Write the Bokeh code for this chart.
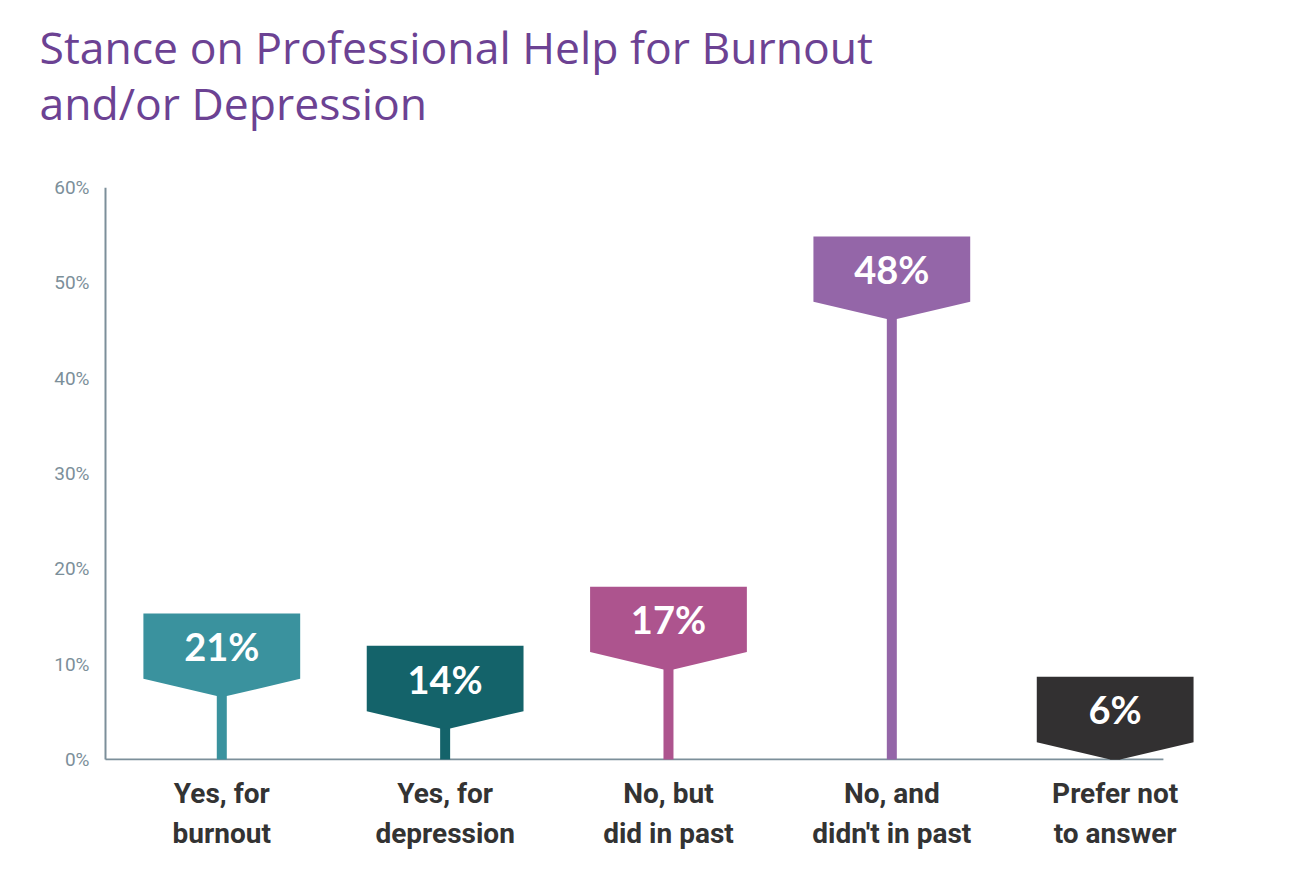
from bokeh.plotting import figure
from bokeh.models import Range1d, FixedTicker, Title
from bokeh.embed import file_html
from bokeh.resources import INLINE
from bokeh.core.properties import value

# ---- data ----
categories = ["Yes, for\nburnout", "Yes, for\ndepression", "No, but\ndid in past",
              "No, and\ndidn't in past", "Prefer not\nto answer"]
pct_labels = ["21%", "14%", "17%", "48%", "6%"]
# level (in %) where each flag's point meets its stem, as drawn in the picture
marker_tip = [6.65, 3.25, 9.45, 46.2, 0.0]
colors = ["#3a929e", "#14636a", "#ad548e", "#9466a8", "#323031"]
y_ticks = [0, 10, 20, 30, 40, 50, 60]
y_tick_labels = ["0%", "10%", "20%", "30%", "40%", "50%", "60%"]
title_text = "Stance on Professional Help for Burnout\nand/or Depression"

# ---- layout / geometry constants ----
X_AXIS_POS = -0.5207      # where the vertical axis line sits (category units)
BASE_END = 4.216          # right end of the baseline
FLAG_HALF_W = 0.351
FLAG_RECT_H = 6.85
FLAG_POINT_H = 1.82
STEM_HALF = 0.022
AXIS_COLOR = "#7c8f9a"
TITLE_COLOR = "#6c4293"

idx = list(range(len(categories)))

p = figure(width=1290, height=878, output_backend="svg", toolbar_location=None,
           x_range=Range1d(-0.5386, 4.597), y_range=Range1d(-0.105, 60.0),
           min_border_left=101, min_border_right=42, min_border_top=187,
           min_border_bottom=118, outline_line_color=None,
           background_fill_color="white", border_fill_color="white")
p.grid.visible = False

# spacer between title and plot area (closest to the frame)
p.add_layout(Title(text=" ", text_font_size="1px", standoff=46), "above")

# title
p.title.text = title_text
p.title.text_font = "Open Sans"
p.title.text_font_style = "normal"
p.title.text_font_size = "44.5px"
p.title.text_color = TITLE_COLOR
p.title.text_line_height = 0.93
p.title.align = "left"
p.title.offset = -62
p.title.standoff = 10

# y axis (labels only; line drawn as a segment)
p.yaxis.ticker = FixedTicker(ticks=y_ticks)
p.yaxis.major_label_overrides = {t: l for t, l in zip(y_ticks, y_tick_labels)}
p.yaxis.axis_line_color = None
p.yaxis.major_tick_line_color = None
p.yaxis.minor_tick_line_color = None
p.yaxis.major_label_standoff = 6
p.yaxis.major_label_text_font = "Roboto"
p.yaxis.major_label_text_font_size = "19px"
p.yaxis.major_label_text_color = AXIS_COLOR

# x axis (category labels)
p.xaxis.ticker = FixedTicker(ticks=idx)
p.xaxis.major_label_overrides = {i: c for i, c in zip(idx, categories)}
p.xaxis.axis_line_color = None
p.xaxis.major_tick_line_color = None
p.xaxis.minor_tick_line_color = None
p.xaxis.major_label_standoff = 10
p.xaxis.major_label_text_font = "Roboto"
p.xaxis.major_label_text_font_style = "bold"
p.xaxis.major_label_text_font_size = "28px"
p.xaxis.major_label_text_color = "#333333"
p.xaxis.major_label_text_line_height = 1.22

# axis lines
p.segment(x0=[X_AXIS_POS], y0=[0], x1=[X_AXIS_POS], y1=[y_ticks[-1]],
          line_color=AXIS_COLOR, line_width=2)
p.segment(x0=[X_AXIS_POS], y0=[0], x1=[BASE_END], y1=[0],
          line_color=AXIS_COLOR, line_width=2)

# stems
p.segment(x0=idx, y0=[0] * len(idx), x1=idx, y1=[t + 0.5 for t in marker_tip],
          line_color=colors, line_width=10)

# flags
xs, ys = [], []
for i, t in zip(idx, marker_tip):
    rb = t + FLAG_POINT_H
    top = rb + FLAG_RECT_H
    xs.append([i - FLAG_HALF_W, i + FLAG_HALF_W, i + FLAG_HALF_W, i + STEM_HALF,
               i - STEM_HALF, i - FLAG_HALF_W])
    ys.append([top, top, rb, t, t, rb])
p.patches(xs, ys, fill_color=colors, line_color=None)

# value labels
p.text(x=idx, y=[t + FLAG_POINT_H + FLAG_RECT_H / 2 for t in marker_tip], text=pct_labels,
       text_align="center", text_baseline="middle", text_color="white",
       text_font=value("Lato"), text_font_style="bold", text_font_size="38px")

open("out.html", "w").write(file_html(p, INLINE))
